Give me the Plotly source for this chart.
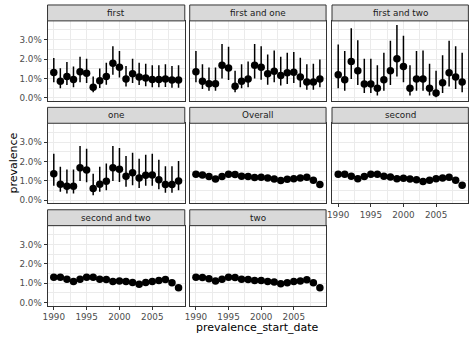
import plotly.graph_objects as go

W, H = 474, 338

years = list(range(1990, 2010))
panels = ["first", "first and one", "first and two", "one", "Overall", "second", "second and two", "two"]

first_est = [1.30, 0.86, 1.10, 0.95, 1.34, 1.27, 0.54, 0.88, 1.10, 1.78, 1.58, 0.97, 1.24, 1.08, 1.02, 0.95, 0.95, 0.97, 0.92, 0.92]
first_lo = [0.80, 0.49, 0.66, 0.54, 0.80, 0.76, 0.29, 0.51, 0.68, 1.19, 1.05, 0.58, 0.76, 0.66, 0.59, 0.54, 0.54, 0.56, 0.52, 0.52]
first_hi = [2.05, 1.53, 1.85, 1.61, 2.12, 2.02, 1.10, 1.51, 1.81, 2.66, 2.41, 1.64, 2.02, 1.81, 1.76, 1.68, 1.68, 1.73, 1.64, 1.68]

fo_est = [1.34, 0.86, 0.73, 0.73, 1.68, 1.54, 0.59, 0.85, 0.97, 1.68, 1.58, 1.24, 1.37, 1.15, 1.29, 1.32, 1.07, 0.81, 0.81, 0.97]
fo_lo = [0.80, 0.46, 0.37, 0.37, 1.00, 0.92, 0.29, 0.49, 0.54, 1.00, 0.93, 0.68, 0.80, 0.63, 0.71, 0.76, 0.54, 0.42, 0.42, 0.54]
fo_hi = [2.41, 1.73, 1.56, 1.56, 2.78, 2.63, 1.39, 1.73, 1.88, 2.78, 2.66, 2.24, 2.44, 2.12, 2.32, 2.37, 2.07, 1.73, 1.76, 1.98]

ft_est = [1.19, 0.93, 1.88, 1.39, 0.71, 0.71, 0.49, 0.93, 1.39, 2.02, 1.61, 0.49, 0.97, 0.97, 0.49, 0.25, 0.78, 1.29, 1.07, 0.81]
ft_lo = [0.49, 0.37, 0.97, 0.66, 0.25, 0.25, 0.12, 0.37, 0.66, 1.10, 0.80, 0.12, 0.37, 0.37, 0.12, 0.03, 0.25, 0.58, 0.46, 0.29]
ft_hi = [2.75, 2.41, 3.59, 2.97, 2.02, 2.02, 1.68, 2.32, 2.95, 3.76, 3.20, 1.68, 2.41, 2.44, 1.76, 1.39, 2.19, 2.95, 2.66, 2.32]

one_est = [1.36, 0.82, 0.72, 0.72, 1.68, 1.56, 0.60, 0.82, 0.98, 1.68, 1.60, 1.23, 1.41, 1.15, 1.29, 1.30, 1.06, 0.81, 0.81, 0.99]
one_lo = [0.74, 0.43, 0.34, 0.34, 0.99, 0.93, 0.26, 0.43, 0.51, 0.99, 0.94, 0.69, 0.77, 0.63, 0.74, 0.74, 0.57, 0.39, 0.39, 0.51]
one_hi = [2.40, 1.72, 1.58, 1.58, 2.80, 2.66, 1.37, 1.72, 1.89, 2.80, 2.69, 2.28, 2.45, 2.14, 2.35, 2.40, 2.09, 1.75, 1.75, 2.02]

ov_est = [1.34, 1.30, 1.22, 1.10, 1.22, 1.34, 1.32, 1.23, 1.22, 1.17, 1.18, 1.15, 1.10, 1.01, 1.08, 1.11, 1.15, 1.18, 1.03, 0.81]
ov_lo = [1.27, 1.23, 1.15, 1.03, 1.15, 1.27, 1.25, 1.16, 1.15, 1.10, 1.11, 1.08, 1.03, 0.95, 1.02, 1.05, 1.09, 1.12, 0.97, 0.76]
ov_hi = [1.41, 1.37, 1.29, 1.17, 1.29, 1.41, 1.39, 1.30, 1.29, 1.24, 1.25, 1.22, 1.17, 1.07, 1.14, 1.17, 1.21, 1.24, 1.09, 0.86]

sec_est = [1.34, 1.34, 1.23, 1.11, 1.22, 1.34, 1.34, 1.23, 1.20, 1.11, 1.13, 1.10, 1.06, 0.96, 1.03, 1.11, 1.15, 1.18, 1.03, 0.77]
sec_lo = [1.27, 1.27, 1.16, 1.04, 1.15, 1.27, 1.27, 1.16, 1.13, 1.04, 1.06, 1.03, 0.99, 0.90, 0.97, 1.05, 1.09, 1.12, 0.97, 0.72]
sec_hi = [1.41, 1.41, 1.30, 1.18, 1.29, 1.41, 1.41, 1.30, 1.27, 1.18, 1.20, 1.17, 1.13, 1.02, 1.09, 1.17, 1.21, 1.24, 1.09, 0.82]

st_est = [1.31, 1.31, 1.21, 1.09, 1.21, 1.31, 1.31, 1.21, 1.19, 1.09, 1.12, 1.09, 1.04, 0.95, 1.04, 1.09, 1.14, 1.19, 1.02, 0.77]
st_lo = [1.24, 1.24, 1.14, 1.02, 1.14, 1.24, 1.24, 1.14, 1.12, 1.02, 1.05, 1.02, 0.97, 0.89, 0.98, 1.03, 1.08, 1.13, 0.96, 0.72]
st_hi = [1.38, 1.38, 1.28, 1.16, 1.28, 1.38, 1.38, 1.28, 1.26, 1.16, 1.19, 1.16, 1.11, 1.01, 1.10, 1.15, 1.20, 1.25, 1.08, 0.82]

two_est = [1.31, 1.30, 1.23, 1.11, 1.21, 1.31, 1.30, 1.21, 1.19, 1.14, 1.14, 1.09, 1.06, 0.97, 1.02, 1.09, 1.12, 1.18, 1.02, 0.77]
two_lo = [1.24, 1.23, 1.16, 1.04, 1.14, 1.24, 1.23, 1.14, 1.12, 1.07, 1.07, 1.02, 0.99, 0.91, 0.96, 1.03, 1.06, 1.12, 0.96, 0.72]
two_hi = [1.38, 1.37, 1.30, 1.18, 1.28, 1.38, 1.37, 1.28, 1.26, 1.21, 1.21, 1.16, 1.13, 1.03, 1.08, 1.15, 1.18, 1.24, 1.08, 0.82]

data = [
    (first_est, first_lo, first_hi),
    (fo_est, fo_lo, fo_hi),
    (ft_est, ft_lo, ft_hi),
    (one_est, one_lo, one_hi),
    (ov_est, ov_lo, ov_hi),
    (sec_est, sec_lo, sec_hi),
    (st_est, st_lo, st_hi),
    (two_est, two_lo, two_hi),
]

y_ticks = [0, 1, 2, 3]
x_ticks = [1990, 1995, 2000, 2005]

# layout in pixels
col_px = [(43, 181.7), (186.7, 324.5), (330.5, 468.3)]
strip_top = [5, 108, 211]
strip_h = 16
panel_bottom = [101.5, 204.5, 307.5]

FONT = "DejaVu Sans"
GRID = "#EBEBEB"
BORDER = "#333333"

def fx(px):
    return px / W

def fy(px):
    return 1 - px / H

fig = go.Figure()
layout = dict(
    width=W, height=H,
    margin=dict(l=0, r=0, t=0, b=0),
    paper_bgcolor="white", plot_bgcolor="white",
    showlegend=False,
    font=dict(family=FONT, color="#4D4D4D", size=9),
)
shapes = []
annotations = []

xlabel_panels = {5, 6, 7}
ylabel_panels = {0, 3, 6}

for i, name in enumerate(panels):
    r, c = divmod(i, 3)
    est, lo, hi = data[i]
    ax = "" if i == 0 else str(i + 1)
    x0, x1 = col_px[c]
    p_top = strip_top[r] + strip_h
    p_bot = panel_bottom[r]
    fig.add_trace(go.Scatter(
        x=years, y=est, mode="markers",
        xaxis="x" + ax, yaxis="y" + ax,
        marker=dict(color="black", size=7.5),
        error_y=dict(type="data", symmetric=False,
                     array=[h - e for h, e in zip(hi, est)],
                     arrayminus=[e - l for e, l in zip(est, lo)],
                     color="black", thickness=1.5, width=0),
        cliponaxis=False,
    ))
    show_x = i in xlabel_panels
    show_y = i in ylabel_panels
    layout["xaxis" + ax] = dict(
        domain=[fx(x0), fx(x1)], anchor="y" + ax,
        range=[1989.05, 2009.95],
        tickmode="array", tickvals=x_ticks,
        showticklabels=show_x, ticks="outside" if show_x else "",
        ticklen=3, tickwidth=1, tickcolor=BORDER,
        tickfont=dict(size=8.8, color="#4D4D4D", family=FONT),
        showgrid=True, gridcolor=GRID, gridwidth=1.2,
        minor=dict(tickmode="array", tickvals=[1992.5, 1997.5, 2002.5, 2007.5],
                   showgrid=True, gridcolor=GRID, gridwidth=0.6, ticks=""),
        showline=True, mirror=True, linecolor=BORDER, linewidth=1,
        zeroline=False, fixedrange=True,
    )
    layout["yaxis" + ax] = dict(
        domain=[fy(p_bot), fy(p_top)], anchor="x" + ax,
        range=[-0.16, 3.97],
        tickmode="array", tickvals=y_ticks,
        ticktext=[f"{v:.1f}%" for v in y_ticks],
        showticklabels=show_y, ticks="outside" if show_y else "",
        ticklen=3, tickwidth=1, tickcolor=BORDER,
        tickfont=dict(size=8.8, color="#4D4D4D", family=FONT),
        showgrid=True, gridcolor=GRID, gridwidth=1.2,
        minor=dict(tickmode="array", tickvals=[0.5, 1.5, 2.5, 3.5],
                   showgrid=True, gridcolor=GRID, gridwidth=0.6, ticks=""),
        showline=True, mirror=True, linecolor=BORDER, linewidth=1,
        zeroline=False, fixedrange=True,
    )
    # strip
    shapes.append(dict(
        type="rect", xref="paper", yref="paper",
        x0=fx(x0), x1=fx(x1), y0=fy(strip_top[r] + strip_h), y1=fy(strip_top[r]),
        fillcolor="#D9D9D9", line=dict(color=BORDER, width=1), layer="above",
    ))
    annotations.append(dict(
        text=name, xref="paper", yref="paper",
        x=fx((x0 + x1) / 2), y=fy(strip_top[r] + strip_h / 2),
        xanchor="center", yanchor="middle", showarrow=False,
        font=dict(size=8.8, color="#1A1A1A", family=FONT),
    ))

annotations.append(dict(
    text="prevalence_start_date", xref="paper", yref="paper",
    x=fx(255.5), y=fy(329.5), xanchor="center", yanchor="middle",
    showarrow=False, font=dict(size=11, color="black", family=FONT),
))
annotations.append(dict(
    text="prevalence", xref="paper", yref="paper",
    x=0, y=fy(164), xanchor="left", yanchor="middle", textangle=-90,
    showarrow=False, font=dict(size=11, color="black", family=FONT),
))

layout["shapes"] = shapes
layout["annotations"] = annotations
fig.update_layout(**layout)
fig.write_html("out.html")
